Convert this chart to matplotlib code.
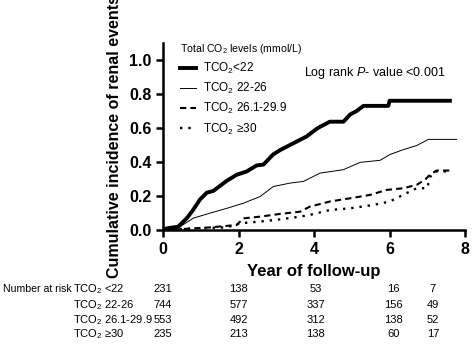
import matplotlib
matplotlib.use("Agg")
import matplotlib.pyplot as plt
from matplotlib.transforms import blended_transform_factory

plt.rcParams['font.family'] = ['Liberation Sans', 'DejaVu Sans']
plt.rcParams['mathtext.fontset'] = 'custom'
plt.rcParams['mathtext.rm'] = 'Liberation Sans'
plt.rcParams['mathtext.it'] = 'Liberation Sans:italic'

# cumulative incidence (year, value)
lt22_x = [0, 0.1, 0.4, 0.63, 0.8, 0.98, 1.16, 1.33, 1.51, 1.69, 1.95, 2.22, 2.48, 2.66, 2.92, 3.1, 3.45, 3.8,
          4.07, 4.16, 4.42, 4.78, 4.96, 5.13, 5.31, 5.97, 6.0, 7.6]
lt22_y = [0, 0.01, 0.02, 0.07, 0.12, 0.18, 0.22, 0.23, 0.26, 0.29, 0.325, 0.345, 0.38, 0.385, 0.445, 0.47, 0.51, 0.55,
          0.595, 0.607, 0.637, 0.637, 0.68, 0.70, 0.73, 0.73, 0.76, 0.76]

g22_x = [0, 0.45, 0.8, 1.25, 1.69, 2.13, 2.57, 2.92, 3.36, 3.72, 4.07, 4.16, 4.78, 5.22, 5.75, 6.01, 6.37, 6.72,
         7.03, 7.78]
g22_y = [0, 0.02, 0.07, 0.10, 0.128, 0.158, 0.197, 0.256, 0.276, 0.286, 0.325, 0.335, 0.355, 0.398, 0.41, 0.444,
         0.473, 0.497, 0.533, 0.533]

g26_x = [0, 0.45, 1.25, 1.95, 2.13, 2.57, 3.1, 3.63, 3.89, 4.07, 4.42, 4.96, 5.49, 5.92, 6.37, 6.72, 6.94, 7.07,
         7.25, 7.6]
g26_y = [0, 0.005, 0.016, 0.03, 0.069, 0.079, 0.095, 0.108, 0.138, 0.148, 0.168, 0.187, 0.207, 0.236, 0.246, 0.266,
         0.296, 0.325, 0.35, 0.35]

g30_x = [0, 0.8, 1.69, 2.04, 2.57, 3.1, 3.63, 3.89, 4.07, 4.42, 4.96, 5.58, 6.01, 6.45, 6.72, 7.0, 7.07, 7.2, 7.5]
g30_y = [0, 0.01, 0.016, 0.04, 0.05, 0.063, 0.079, 0.089, 0.099, 0.118, 0.128, 0.148, 0.168, 0.217, 0.246, 0.246,
         0.31, 0.345, 0.345]

legend_labels = ['TCO$_2$<22', 'TCO$_2$ 22-26', 'TCO$_2$ 26.1-29.9', 'TCO$_2$ \u226530']

# number at risk table
risk_years = [0, 2, 4.05, 6.1, 7.15]
risk_rows = ['TCO$_2$ <22', 'TCO$_2$ 22-26', 'TCO$_2$ 26.1-29.9', 'TCO$_2$ \u226530']
risk_lt22 = [231, 138, 53, 16, 7]
risk_22 = [744, 577, 337, 156, 49]
risk_26 = [553, 492, 312, 138, 52]
risk_30 = [235, 213, 138, 60, 17]

fig = plt.figure(figsize=(4.74, 3.46), dpi=100)
ax = fig.add_axes([0.344, 0.335, 0.637, 0.541])

ax.plot(lt22_x, lt22_y, color='black', lw=2.8, label=legend_labels[0])
ax.plot(g22_x, g22_y, color='black', lw=0.7, label=legend_labels[1])
ax.plot(g26_x, g26_y, color='black', lw=1.5, ls=(0, (3, 2)), label=legend_labels[2])
ax.plot(g30_x, g30_y, color='black', lw=1.7, ls=(0, (1, 2.5)), label=legend_labels[3])

ax.set_xlim(0, 8)
ax.set_ylim(0, 1.1)
ax.set_xticks([0, 2, 4, 6, 8])
ax.set_yticks([0, 0.2, 0.4, 0.6, 0.8, 1.0])
ax.set_yticklabels(['0.0', '0.2', '0.4', '0.6', '0.8', '1.0'])
for s in ['top', 'right']:
    ax.spines[s].set_visible(False)
for s in ['left', 'bottom']:
    ax.spines[s].set_linewidth(1.8)
ax.tick_params(width=1.8, length=5, labelsize=11.5)
for lab in ax.get_xticklabels() + ax.get_yticklabels():
    lab.set_fontweight('bold')

ax.set_xlabel('Year of follow-up', fontsize=12, fontweight='bold', labelpad=5)
ax.set_ylabel('Cumulative incidence of renal events', fontsize=11.5, fontweight='bold', labelpad=5)

leg = ax.legend(loc='upper left', bbox_to_anchor=(0.02, 1.06), frameon=False, fontsize=8.5,
                title='Total CO$_2$ levels (mmol/L)', title_fontsize=7.6, alignment='left',
                handlelength=1.4, handletextpad=0.6, labelspacing=0.42)

ax.text(0.934, 0.84, 'Log rank $\\it{P}$- value <0.001', transform=ax.transAxes,
        fontsize=9, ha='right', va='center')

tr = blended_transform_factory(ax.transData, fig.transFigure)
row_y = [0.165, 0.118, 0.075, 0.035]
fig.text(0.006, row_y[0], 'Number at risk', fontsize=7.6, va='center')
for lab, y in zip(risk_rows, row_y):
    fig.text(0.153, y, lab, fontsize=8, va='center')
for vals, y in zip([risk_lt22, risk_22, risk_26, risk_30], row_y):
    for xv, v in zip(risk_years, vals):
        ax.text(xv, y, str(v), transform=tr, fontsize=8, ha='center', va='center')

fig.savefig('out.png', dpi=100)
